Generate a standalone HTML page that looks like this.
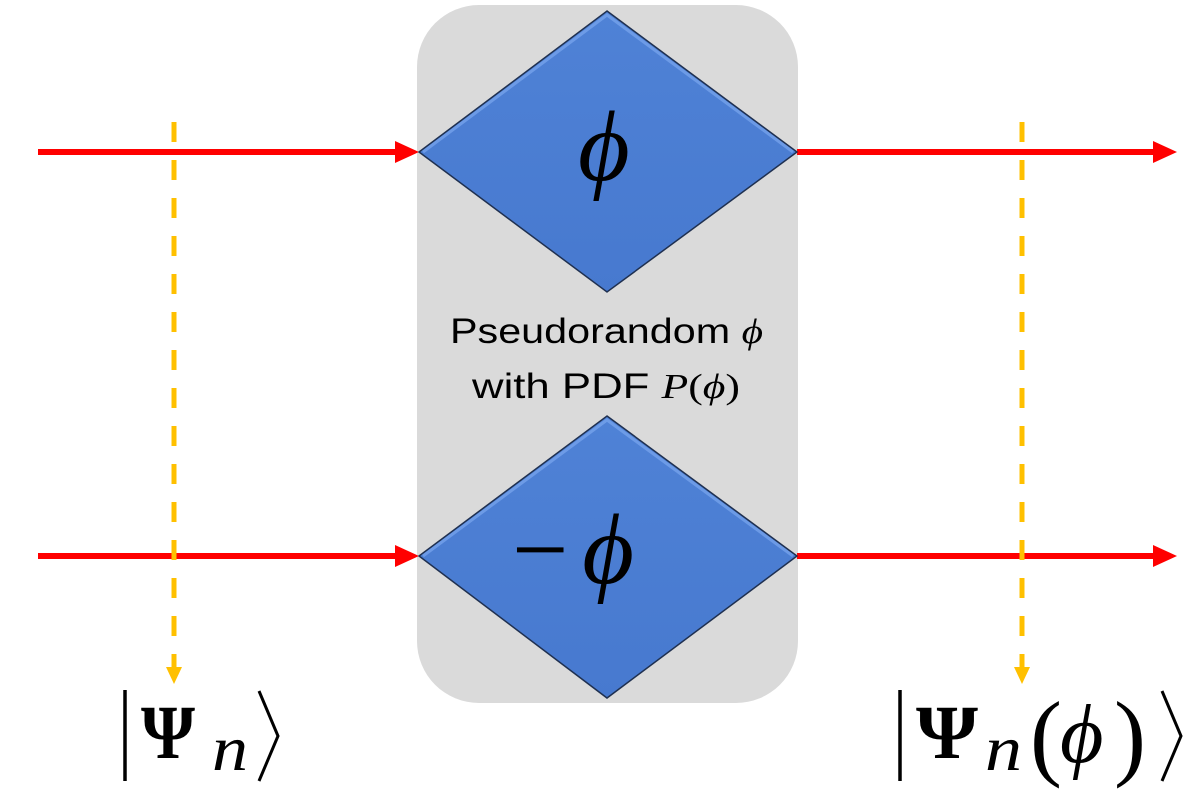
<!DOCTYPE html>
<html><head><meta charset="utf-8"><style>html,body{margin:0;padding:0;background:#fff;}svg{display:block}</style></head>
<body>
<svg width="1199" height="789" viewBox="0 0 1199 789" xmlns="http://www.w3.org/2000/svg">
<defs>
<linearGradient id="g" x1="0" y1="0" x2="0" y2="1"><stop offset="0" stop-color="#4f82d6"/><stop offset="1" stop-color="#4779cf"/></linearGradient>
</defs>
<rect x="417" y="5" width="381" height="698" rx="62" ry="62" fill="#dadada"/>
<g fill="#ff0000">
<rect x="38" y="149" width="360" height="6"/><polygon points="395,141 419,152 395,163"/>
<rect x="797" y="149" width="360" height="6"/><polygon points="1153,141 1177,152 1153,163"/>
<rect x="38" y="553" width="360" height="6"/><polygon points="395,545 419,556 395,567"/>
<rect x="797" y="553" width="360" height="6"/><polygon points="1153,545 1177,556 1153,567"/>
</g>
<polygon points="607,11 797,152 607,292 419,152" fill="url(#g)" stroke="#1f3050" stroke-width="1.5"/>
<polyline points="423,152 607,15 793,152" fill="none" stroke="#7aa6ee" stroke-width="3" opacity="0.7"/>
<polygon points="607,416 797,556 607,698 419,556" fill="url(#g)" stroke="#1f3050" stroke-width="1.5"/>
<polyline points="423,556 607,420 793,556" fill="none" stroke="#7aa6ee" stroke-width="3" opacity="0.7"/>
<g stroke="#ffc000" stroke-width="5" stroke-dasharray="20,18">
<line x1="174" y1="122" x2="174" y2="668"/>
<line x1="1022" y1="122" x2="1022" y2="668"/>
</g>
<polygon points="166,667 182,667 174,684" fill="#ffc000"/>
<polygon points="1014,667 1030,667 1022,684" fill="#ffc000"/>
<text x="578" y="180" font-family="Liberation Serif, serif" font-style="italic" font-size="100" textLength="55">ϕ</text>
<text x="512" y="583" font-family="Liberation Serif, serif" font-size="100" textLength="122">−<tspan font-style="italic">ϕ</tspan></text>
<text x="450" y="343" font-family="Liberation Sans, sans-serif" font-size="35" textLength="313" lengthAdjust="spacingAndGlyphs">Pseudorandom <tspan font-family="Liberation Serif, serif" font-style="italic">ϕ</tspan></text>
<text x="472" y="398" font-family="Liberation Sans, sans-serif" font-size="35" textLength="268" lengthAdjust="spacingAndGlyphs">with PDF <tspan font-family="Liberation Serif, serif" font-style="italic">P</tspan><tspan font-family="Liberation Serif, serif">(</tspan><tspan font-family="Liberation Serif, serif" font-style="italic">ϕ</tspan><tspan font-family="Liberation Serif, serif">)</tspan></text>
<line x1="125" y1="690" x2="125" y2="781" stroke="#000" stroke-width="3.5"/>
<text x="141" y="758" font-family="Liberation Serif, serif" font-weight="bold" font-size="76" textLength="54" lengthAdjust="spacingAndGlyphs">Ψ</text>
<text x="212" y="770" font-family="Liberation Serif, serif" font-style="italic" font-size="64" textLength="36" lengthAdjust="spacingAndGlyphs">n</text>
<polyline points="259,691 278,736 259,781" fill="none" stroke="#000" stroke-width="3"/>
<line x1="900" y1="690" x2="900" y2="781" stroke="#000" stroke-width="3.5"/>
<text x="916" y="758" font-family="Liberation Serif, serif" font-weight="bold" font-size="76" textLength="62" lengthAdjust="spacingAndGlyphs">Ψ</text>
<text x="985" y="770" font-family="Liberation Serif, serif" font-style="italic" font-size="64" textLength="37" lengthAdjust="spacingAndGlyphs">n</text>
<text x="1030" y="768" font-family="Liberation Serif, serif" font-size="96">(</text>
<text x="1060" y="762" font-family="Liberation Serif, serif" font-style="italic" font-size="84" textLength="46">ϕ</text>
<text x="1114" y="768" font-family="Liberation Serif, serif" font-size="96">)</text>
<polyline points="1162,691 1181,736 1162,781" fill="none" stroke="#000" stroke-width="3"/>
</svg>
</body></html>
